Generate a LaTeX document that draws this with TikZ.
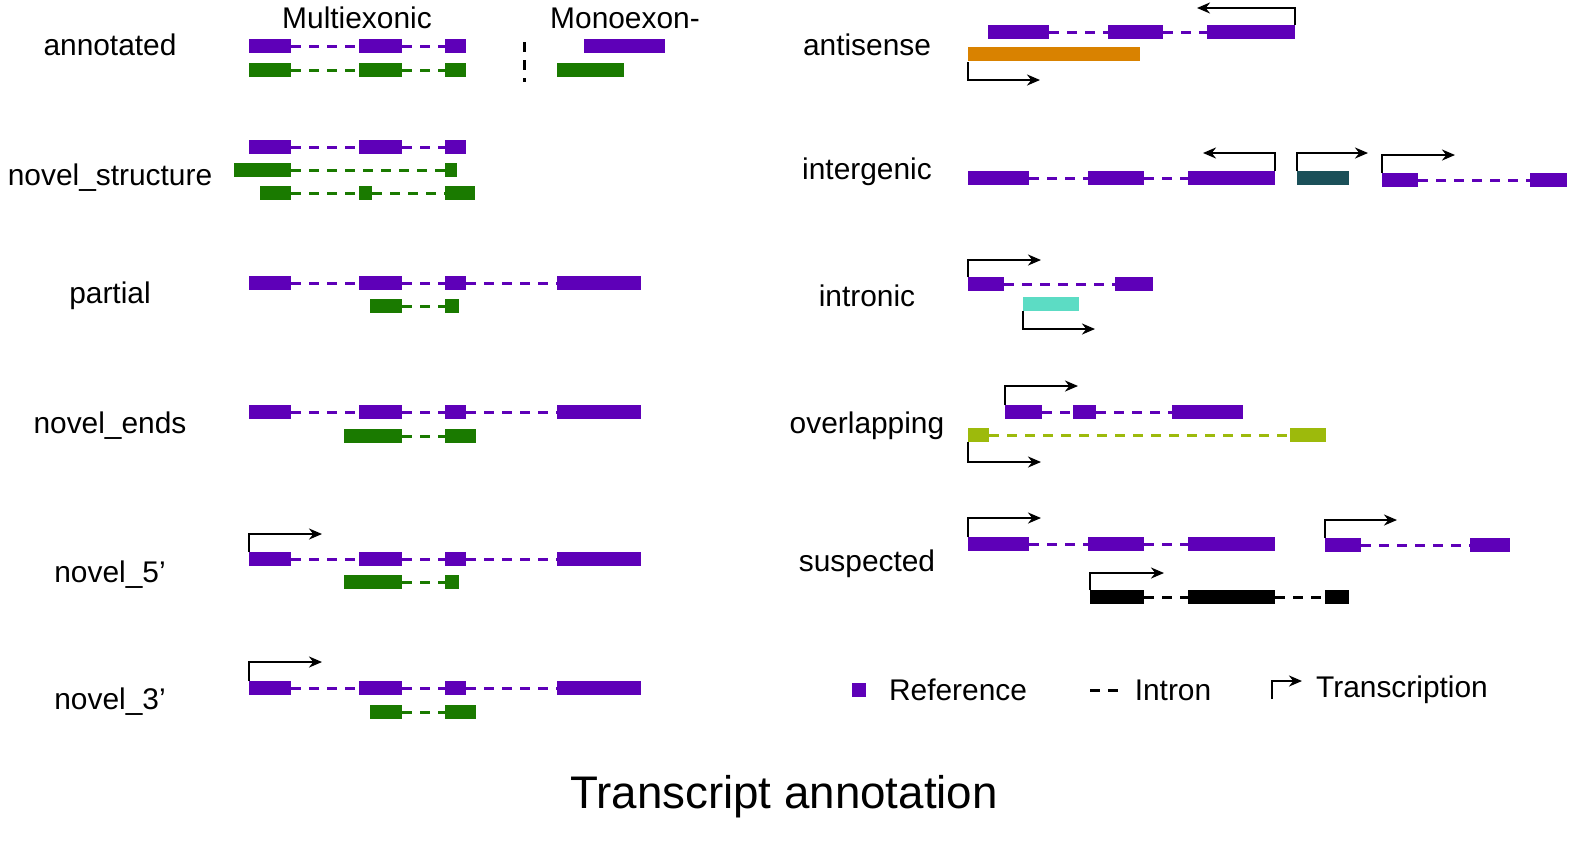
\documentclass[tikz,border=0pt]{standalone}
\usepackage{fontspec}
\setmainfont{Liberation Sans}
\usetikzlibrary{arrows.meta}
\definecolor{refc}{HTML}{5E00B8}
\definecolor{newc}{HTML}{1A7A00}
\definecolor{antic}{HTML}{D98200}
\definecolor{interc}{HTML}{1B5059}
\definecolor{intrc}{HTML}{5CDCC4}
\definecolor{overc}{HTML}{9DBA0C}
\tikzset{
  exon/.style={line width=0.14cm},
  intron/.style={line width=0.03cm, dash pattern=on 0.1cm off 0.08cm},
  tss/.style={line width=0.025cm, -{Stealth[length=0.13cm,width=0.11cm]}},
  lab/.style={font=\fontsize{8.5}{10}\selectfont},
}
% \gene{colour}{y}{x1/x2,x1/x2,...}
\newcommand\gene[3]{%
  \foreach \a/\b [count=\i] in {#3}{%
    \draw[exon,#1] (\a,#2) -- (\b,#2);
    \ifnum\i>1 \draw[intron,#1] (\lastx,#2) -- (\a,#2);\fi
    \xdef\lastx{\b}}}
\begin{document}
\begin{tikzpicture}[x=0.01cm,y=-0.01cm]
\useasboundingbox (0,0) rectangle (1590,841);
%left column labels
\node[lab] (lann) at (110,45) {annotated};
\node[lab] (lstr) at (110,178) {novel\_structure};
\node[lab] (lpar) at (110,296) {partial};
\node[lab] (lend) at (110,426) {novel\_ends};
\node[lab] (lfive) at (110,575) {novel\_5’};
\node[lab] (lthree) at (110,702) {novel\_3’};
\node[lab] (hmulti) at (357,18) {Multiexonic};
\node[lab] (hmono) at (625,18) {Monoexon-};
%annotated
\gene{refc}{46}{249/291,359/402,445/466}
\gene{newc}{70}{249/291,359/402,445/466}
\draw[intron,black] (524,42) -- (524,82);
\gene{refc}{46}{584/665}
\gene{newc}{70}{557/624}
%novel_structure
\gene{refc}{147}{249/291,359/402,445/466}
\gene{newc}{170}{234/291,445/457}
\gene{newc}{193}{260/291,359/372,445/475}
%partial
\gene{refc}{283}{249/291,359/402,445/466,557/641}
\gene{newc}{306}{370/402,445/459}
%novel_ends
\gene{refc}{412}{249/291,359/402,445/466,557/641}
\gene{newc}{436}{344/402,445/476}
%novel_5'
\draw[tss] (249,552) -- (249,534) -- (322,534);
\gene{refc}{559}{249/291,359/402,445/466,557/641}
\gene{newc}{582}{344/402,445/459}
%novel_3'
\draw[tss] (249,681) -- (249,662) -- (322,662);
\gene{refc}{688}{249/291,359/402,445/466,557/641}
\gene{newc}{712}{370/402,445/476}
%right column labels
\node[lab] (lanti) at (867,45) {antisense};
\node[lab] (linter) at (867,172) {intergenic};
\node[lab] (lintr) at (867,296) {intronic};
\node[lab] (lover) at (867,426) {overlapping};
\node[lab] (lsusp) at (867,564) {suspected};
%antisense
\gene{refc}{32}{988/1049,1108/1163,1207/1295}
\draw[tss] (1295,25) -- (1295,8) -- (1197,8);
\gene{antic}{54}{968/1140}
\draw[tss] (968,62) -- (968,80) -- (1040,80);
%intergenic
\gene{refc}{178}{968/1029,1088/1144,1188/1275}
\draw[tss] (1275,171) -- (1275,153) -- (1203,153);
\gene{interc}{178}{1297/1349}
\draw[tss] (1297,171) -- (1297,153) -- (1368,153);
\gene{refc}{180}{1382/1418,1530/1567}
\draw[tss] (1382,173) -- (1382,155) -- (1455,155);
%intronic
\draw[tss] (968,277) -- (968,260) -- (1041,260);
\gene{refc}{284}{968/1004,1115/1153}
\gene{intrc}{304}{1023/1079}
\draw[tss] (1023,311) -- (1023,329) -- (1095,329);
%overlapping
\draw[tss] (1005,405) -- (1005,386) -- (1078,386);
\gene{refc}{412}{1005/1042,1073/1096,1172/1243}
\gene{overc}{435}{968/989,1290/1326}
\draw[tss] (968,442) -- (968,462) -- (1041,462);
%suspected
\draw[tss] (968,537) -- (968,518) -- (1041,518);
\gene{refc}{544}{968/1029,1088/1144,1188/1275}
\draw[tss] (1325,538) -- (1325,520) -- (1397,520);
\gene{refc}{545}{1325/1361,1470/1510}
\draw[tss] (1090,590) -- (1090,573) -- (1164,573);
\gene{black}{597}{1090/1144,1188/1275,1325/1349}
%legend
\fill[refc] (852,683) rectangle (866,697);
\node[lab] (kref) at (958,690) {Reference};
\draw[intron,black] (1090,690) -- (1126,690);
\node[lab] (kintr) at (1173,690) {Intron};
\draw[tss] (1272,699) -- (1272,681) -- (1302,681);
\node[lab] (ktss) at (1402,690) {Transcription};
%title
\node[font=\fontsize{13}{15}\selectfont] (title) at (784,797) {Transcript annotation};
\end{tikzpicture}
\end{document}
